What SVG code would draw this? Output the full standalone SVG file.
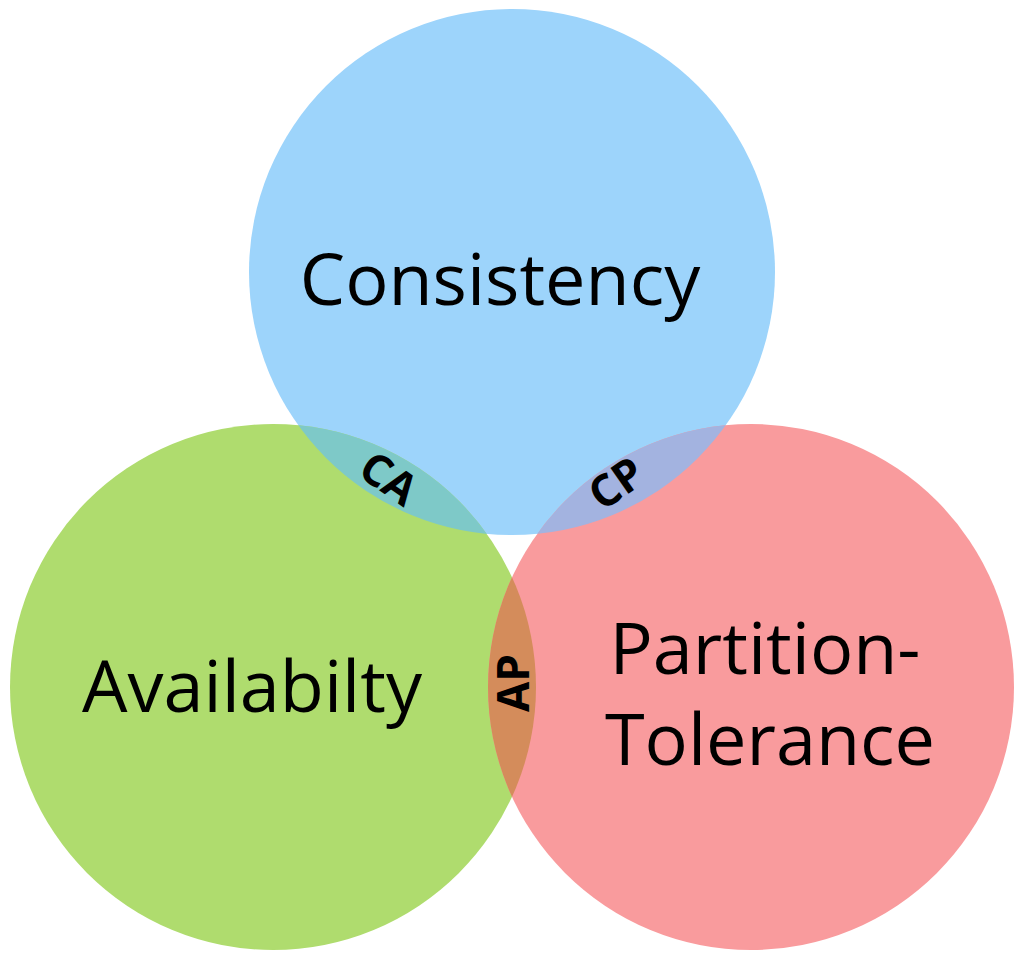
<svg xmlns="http://www.w3.org/2000/svg" width="1024" height="962" viewBox="0 0 1024 962">
<style>
.big{font-family:"Open Sans","Noto Sans",sans-serif;font-size:72px;fill:#000;text-anchor:middle}
.sm{font-family:"Open Sans","Noto Sans",sans-serif;font-size:44px;font-weight:bold;fill:#000;text-anchor:middle}
</style>
<defs>
<clipPath id="cT"><circle cx="512" cy="272" r="263"/></clipPath>
<clipPath id="cL"><circle cx="273" cy="687" r="263"/></clipPath>
</defs>
<g id="consistency"><circle cx="512" cy="272" r="263" fill="#9dd4fb"/></g>
<g id="availability"><circle cx="273" cy="687" r="263" fill="#afdc6e"/></g>
<g id="partition"><circle cx="751" cy="687" r="263" fill="#f99b9d"/></g>
<g id="ca"><circle cx="273" cy="687" r="263" fill="#7ec9c8" clip-path="url(#cT)"/></g>
<g id="cp"><circle cx="751" cy="687" r="263" fill="#a3b3e0" clip-path="url(#cT)"/></g>
<g id="ap"><circle cx="751" cy="687" r="263" fill="#d48c5b" clip-path="url(#cL)"/></g>
<g id="connectors"/>
<text class="big" x="500" y="305">Consistency</text>
<text class="big" x="252" y="712">Availabilty</text>
<text class="big" x="765" y="674">Partition-</text>
<text class="big" x="770" y="765">Tolerance</text>
<text class="sm" transform="translate(380,491) rotate(35)">CA</text>
<text class="sm" transform="translate(625,496) rotate(-35)">CP</text>
<text class="sm" transform="translate(529,683) rotate(-90)">AP</text>
</svg>
